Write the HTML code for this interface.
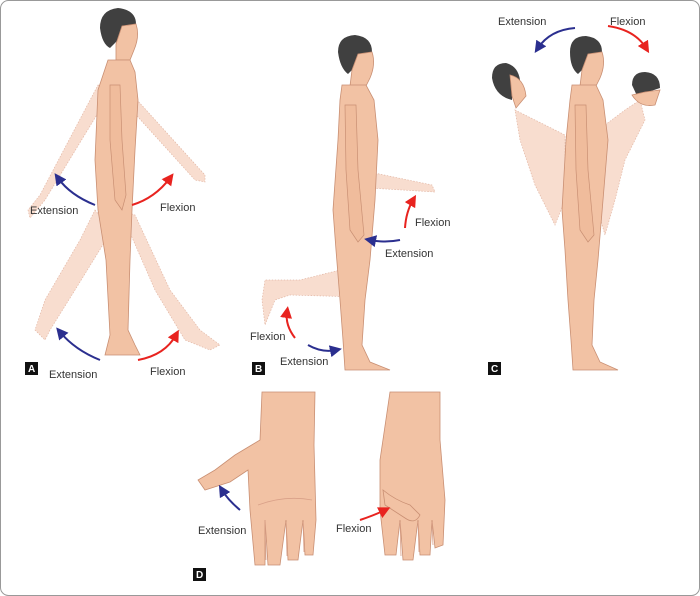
<!DOCTYPE html>
<html><head><style>
html,body{margin:0;padding:0;background:#fff;}
svg{display:block;}
text{font-family:"Liberation Sans",sans-serif;font-size:11px;fill:#333;}
.s{fill:#f2c2a4;stroke:#c98f73;stroke-width:0.8;}
.a{fill:#f0bc9c;stroke:#c98f73;stroke-width:0.7;}
.g{fill:#f6d2c0;opacity:0.75;stroke:#d9a088;stroke-width:0.7;stroke-dasharray:1.5 1.5;}
.h{fill:#404040;}
.b{fill:none;stroke:#2b2f8f;stroke-width:2;}
.r{fill:none;stroke:#e8231f;stroke-width:2;}
.lb{fill:#111;}
.lt{fill:#fff;font-size:10px;font-weight:bold;}
.ln{fill:none;stroke:#d9a088;stroke-width:0.8;}
</style></head><body>
<svg width="700" height="596" viewBox="0 0 700 596">
<defs>
<marker id="mb" markerWidth="6" markerHeight="6" refX="3" refY="3" orient="auto"><path d="M0,0 L6,3 L0,6z" fill="#2b2f8f"/></marker>
<marker id="mr" markerWidth="6" markerHeight="6" refX="3" refY="3" orient="auto"><path d="M0,0 L6,3 L0,6z" fill="#e8231f"/></marker>
</defs>
<rect x="0.5" y="0.5" width="699" height="595" rx="8" fill="#fff" stroke="#999"/>
<!-- A -->
<path class="g" d="M98,85 L112,90 L45,200 L30,218 L28,210 L40,195z"/>
<path class="g" d="M118,95 L128,90 L205,175 L205,182 L195,180z"/>
<path class="g" d="M95,210 L112,230 L75,290 L50,330 L45,340 L35,330 L45,300 L80,240z"/>
<path class="g" d="M120,210 L135,215 L170,290 L200,330 L220,345 L210,350 L185,340 L155,290z"/>
<path class="h" d="M100,28 Q100,10 118,8 Q136,10 136,24 L126,26 L118,40 L110,48 Q102,44 100,28z"/>
<path class="s" d="M122,26 L136,24 Q140,36 134,50 L130,60 L116,60 L116,44z"/>
<path class="s" d="M108,60 L130,60 L135,72 L138,100 L135,150 L132,210 L130,260 L128,330 L135,345 L140,355 L105,355 L110,335 L106,260 L98,210 L95,160 L98,90 Z"/>
<path class="a" d="M110,85 L120,85 L122,140 L126,195 L122,210 L115,200 L110,140z"/>
<!-- B -->
<path class="g" d="M340,165 L360,170 L432,185 L435,192 L370,188 L340,185z"/>
<path class="g" d="M340,270 L360,272 L360,297 L290,295 L275,300 L265,325 L262,300 L265,280 L300,280z"/>
<path class="h" d="M338,52 Q338,36 355,35 Q372,37 372,52 L362,54 L356,66 L348,74 Q340,68 338,52z"/>
<path class="s" d="M358,54 L372,52 Q376,64 370,78 L366,86 L350,86 L352,70z"/>
<path class="s" d="M342,85 L366,85 L374,100 L378,140 L375,200 L370,260 L365,300 L362,345 L370,362 L390,370 L345,370 L343,340 L340,300 L336,250 L333,210 L338,140 L340,100 Z"/>
<path class="a" d="M345,105 L356,105 L358,170 L364,235 L358,242 L350,230 L346,170z"/>
<!-- C -->
<path class="g" d="M515,110 L545,125 L565,135 L565,200 L555,225 L535,185 L520,140z"/>
<path class="g" d="M605,125 L625,110 L640,100 L645,120 L625,160 L615,200 L605,235 L595,200z"/>
<path class="h" d="M492,78 Q492,63 506,63 Q518,66 520,80 L512,86 L512,100 Q495,96 492,78z"/>
<path class="s" d="M510,75 Q524,78 526,96 L516,108 L512,96z"/>
<path class="h" d="M632,85 Q632,72 645,72 Q660,73 660,88 L648,92 L638,98z"/>
<path class="s" d="M632,95 Q640,108 655,105 L660,90 L645,92 Z"/>
<path class="h" d="M570,52 Q570,36 586,36 Q602,38 602,52 L592,54 L586,66 L578,74 Q570,68 570,52z"/>
<path class="s" d="M588,54 L602,52 Q606,64 600,78 L596,86 L580,86 L582,70z"/>
<path class="s" d="M572,85 L596,85 L603,100 L608,140 L603,200 L598,260 L594,300 L592,345 L600,362 L618,370 L573,370 L571,340 L568,300 L565,250 L562,210 L566,140 L570,100 Z"/>
<path class="a" d="M575,105 L586,105 L588,170 L594,235 L588,242 L580,230 L576,170z"/>
<!-- D hands -->
<path class="s" d="M262,392 L315,392 L314,445 L316,520 L313,555 L305,555 L303,520 L298,560 L288,560 L286,520 L280,565 L268,565 L265,520 L265,565 L255,565 L250,510 L248,470 L230,482 L205,490 L198,480 L215,470 L235,455 L260,440 Z"/>
<path class="ln" d="M265,520 L266,560 M286,522 L287,556 M303,522 L304,552 M258,505 Q285,495 312,500"/>
<path class="s" d="M390,392 L440,392 L440,440 L445,500 L443,545 L435,548 L432,520 L430,555 L420,555 L418,520 L413,560 L403,560 L400,520 L396,555 L385,555 L380,510 L380,460 Z"/>
<path class="ln" d="M400,522 L401,556 M418,522 L419,552 M432,522 L433,545"/>
<path class="s" d="M383,490 Q395,500 410,505 L420,515 Q415,525 405,518 L385,505 Z"/>
<!-- arrows -->
<path class="b" d="M95,205 Q70,195 58,178" marker-end="url(#mb)"/>
<path class="r" d="M132,205 Q155,198 170,178" marker-end="url(#mr)"/>
<path class="b" d="M100,360 Q75,350 60,332" marker-end="url(#mb)"/>
<path class="r" d="M138,360 Q165,355 176,335" marker-end="url(#mr)"/>
<path class="r" d="M405,228 Q406,212 413,200" marker-end="url(#mr)"/>
<path class="b" d="M400,240 Q385,243 370,240" marker-end="url(#mb)"/>
<path class="r" d="M295,338 Q285,325 287,312" marker-end="url(#mr)"/>
<path class="b" d="M308,345 Q322,353 336,350" marker-end="url(#mb)"/>
<path class="b" d="M575,28 Q550,30 538,48" marker-end="url(#mb)"/>
<path class="r" d="M608,26 Q635,30 646,48" marker-end="url(#mr)"/>
<path class="b" d="M240,510 Q228,500 222,490" marker-end="url(#mb)"/>
<path class="r" d="M360,520 Q375,515 385,510" marker-end="url(#mr)"/>
<!-- labels -->
<text x="30" y="214">Extension</text>
<text x="160" y="211">Flexion</text>
<text x="49" y="378">Extension</text>
<text x="150" y="375">Flexion</text>
<text x="415" y="226">Flexion</text>
<text x="385" y="257">Extension</text>
<text x="250" y="340">Flexion</text>
<text x="280" y="365">Extension</text>
<text x="498" y="25">Extension</text>
<text x="610" y="25">Flexion</text>
<text x="198" y="534">Extension</text>
<text x="336" y="532">Flexion</text>
<rect class="lb" x="25" y="362" width="13" height="13"/><text class="lt" x="28" y="372">A</text>
<rect class="lb" x="252" y="362" width="13" height="13"/><text class="lt" x="255" y="372">B</text>
<rect class="lb" x="488" y="362" width="13" height="13"/><text class="lt" x="491" y="372">C</text>
<rect class="lb" x="193" y="568" width="13" height="13"/><text class="lt" x="196" y="578">D</text>
</svg>
</body></html>
